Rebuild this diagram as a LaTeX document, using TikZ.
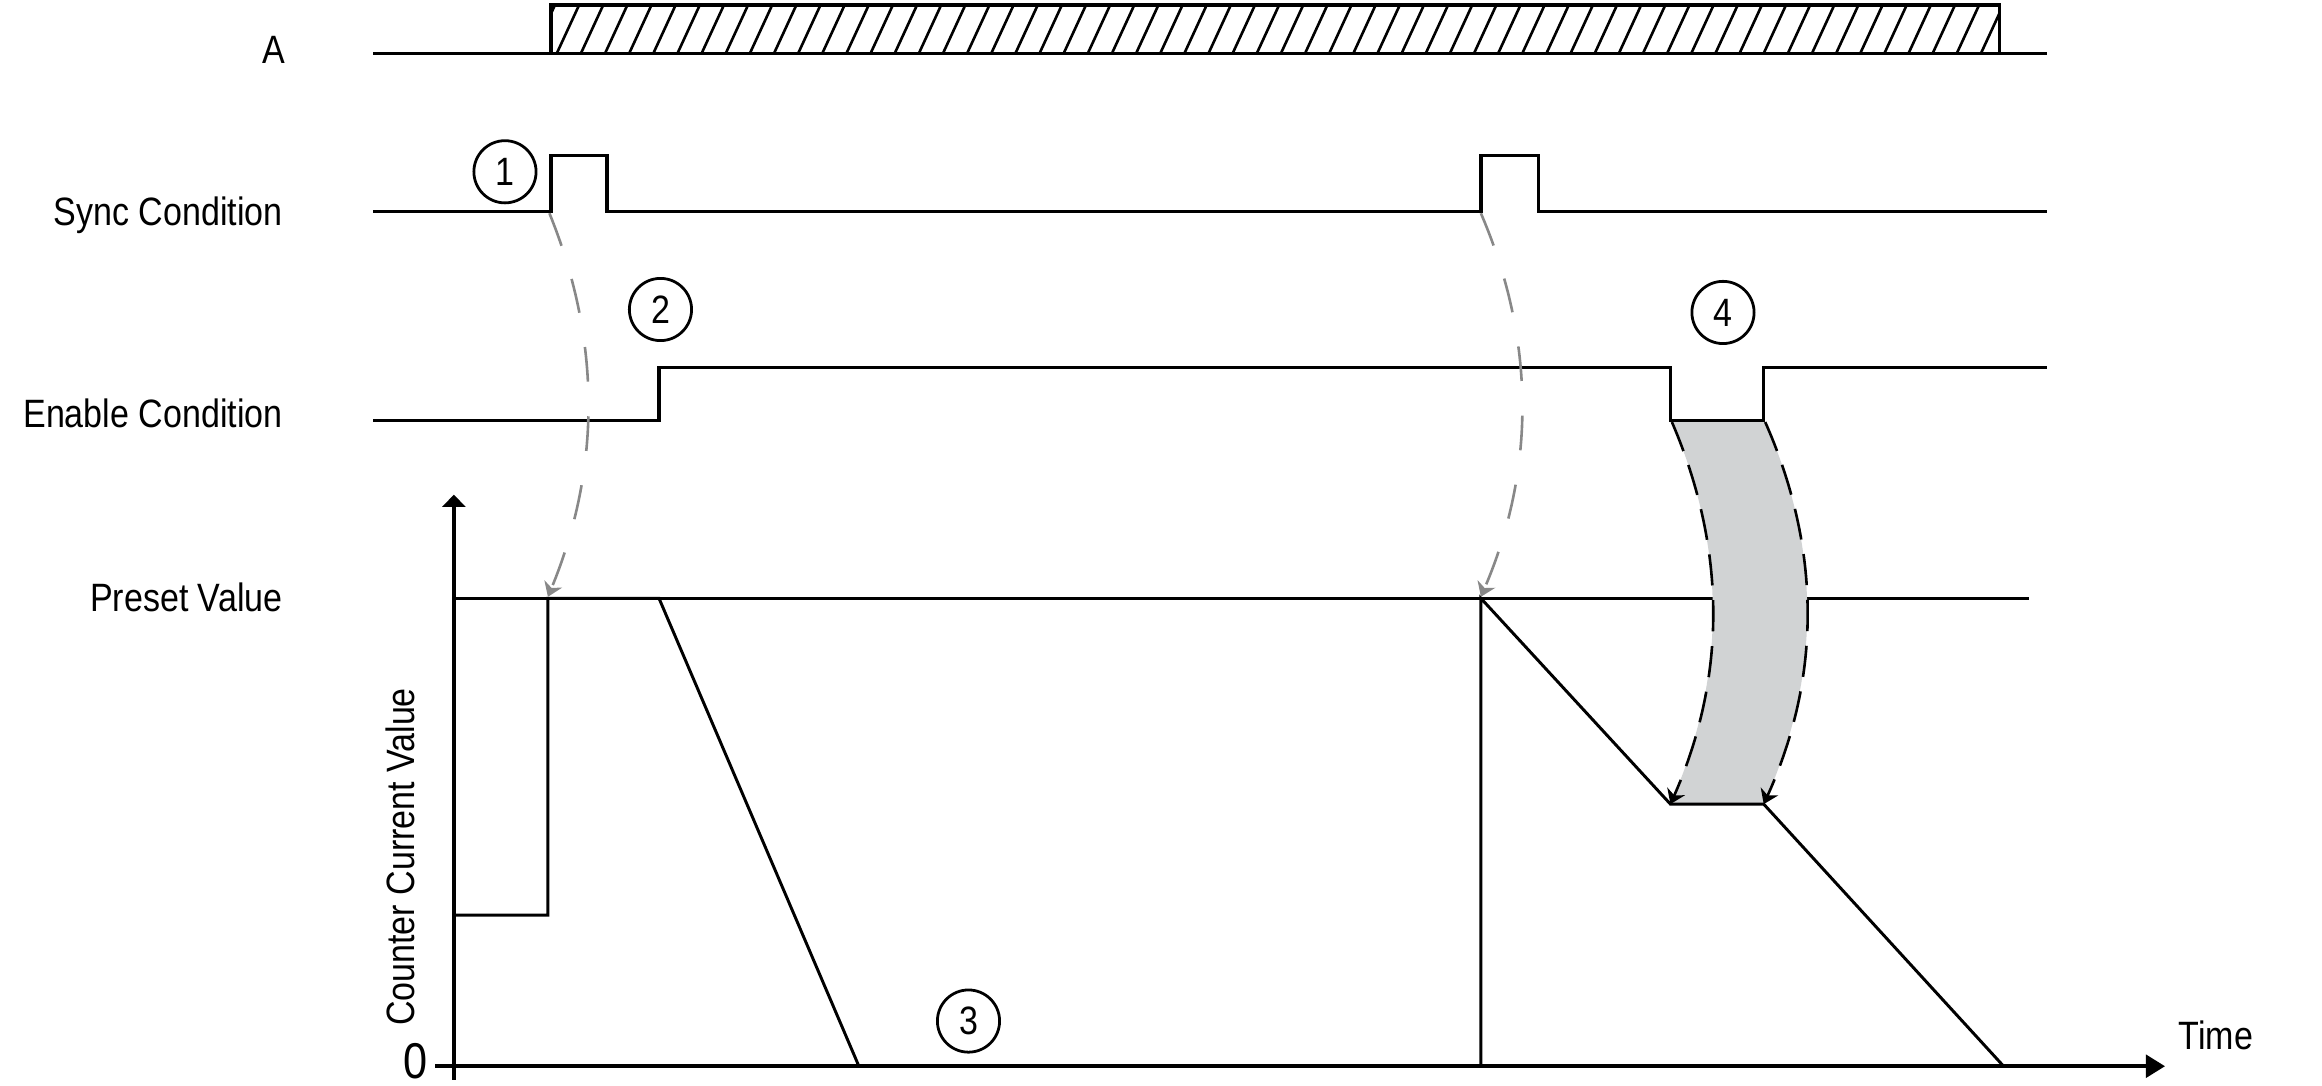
\documentclass[tikz,border=0pt]{standalone}
\usepackage{fontspec}
\setmainfont{Liberation Sans}[FakeStretch=0.86]
\usetikzlibrary{arrows.meta}
\definecolor{bandgray}{HTML}{D1D3D4}
\definecolor{arcgray}{HTML}{888888}
\begin{document}
\begin{tikzpicture}[x=0.03cm,y=-0.03cm,
  sig/.style={line width=1.95pt, line join=miter},
  cnt/.style={line width=1.7pt, line join=miter},
  axis/.style={line width=2.1pt},
  lbl/.style={inner sep=0pt, font=\fontsize{22.8}{27}\selectfont},
  num/.style={circle, draw, line width=1.6pt, minimum size=1.26cm, inner sep=0pt, font=\fontsize{22.8}{27}\selectfont},
  grayarc/.style={draw=arcgray, line width=1.5pt, dash pattern=on 20pt off 20pt, -{Stealth[length=8pt,width=11pt,inset=2.5pt]}},
  bandarc/.style={draw=black, line width=1.5pt, dash pattern=on 18pt off 8.5pt, -{Stealth[length=8pt,width=11pt,inset=2.5pt]}},
  hatchline/.style={line width=1.5pt}]
\useasboundingbox (0,0) rectangle (1568,733);

% labels
\node[lbl, anchor=base east] (lA) at (193,43) {A};
\node[lbl, anchor=base east] (lS) at (191,152) {Sync Condition};
\node[lbl, anchor=base east] (lE) at (191,289) {Enable Condition};
\node[lbl, anchor=base east] (lP) at (191,413) {Preset Value};
\node[lbl, anchor=base west] (lT) at (1471,709) {Time};
\node[lbl, font=\fontsize{29}{34}\selectfont] (l0) at (280.5,716.5) {0};
\node[lbl, rotate=90, anchor=base west] (lC) at (280,693) {Counter Current Value};

% A row
\coordinate (h1) at (372,3.5);
\coordinate (h2) at (1350,36);
\begin{scope}
  \clip (h1) rectangle (h2);
  \foreach \k in {-2,...,61} \draw[hatchline] ({376+16.3*\k},36) -- ++(15,-32.5);
\end{scope}
\draw[sig] (252,36) -- (1382,36);
\draw[sig] (h1) rectangle (h2);

% Sync row
\coordinate (s1) at (371,144);
\coordinate (s2) at (1000,144);
\draw[sig] (252,143) -- (372,143) -- (372,105) -- (410,105) -- (410,143) -- (1000,143) -- (1000,105) -- (1039,105) -- (1039,143) -- (1382,143);

% preset line
\draw[cnt] (306.5,404) -- (1370,404);

% gray band
\coordinate (bl1) at (1129,285);
\coordinate (bl2) at (1128,543);
\coordinate (br1) at (1192,285);
\coordinate (br2) at (1191,543);
\fill[bandgray] (bl1) .. controls (1166,371) and (1166,457) .. (bl2) -- (br2) .. controls (1230,457) and (1230,371) .. (br1) -- cycle;
\draw[bandarc] (bl1) .. controls (1166,371) and (1166,457) .. (bl2);
\draw[bandarc] (br1) .. controls (1230,371) and (1230,457) .. (br2);

% Enable row
\draw[sig] (252,284) -- (445,284) -- (445,248) -- (1128,248) -- (1128,284) -- (1191,284) -- (1191,248) -- (1382,248);

% axes
\draw[axis, -{Triangle[length=7pt,width=13pt]}] (306.5,729) -- (306.5,334);
\draw[axis, -{Triangle[length=11pt,width=13pt]}] (294,720) -- (1462,720);

% counter value
\draw[cnt] (306.5,618) -- (370,618) -- (370,404) -- (445,404) -- (580,720);
\draw[cnt] (1000,720) -- (1000,404) -- (1128,543) -- (1191,543) -- (1353,720);

% gray dashed arcs
\coordinate (p1) at (370,403);
\coordinate (p2) at (1000,403);
\draw[grayarc] (s1) .. controls (406,230) and (406,316) .. (p1);
\draw[grayarc] (s2) .. controls (1037,230) and (1037,317) .. (p2);

% numbered circles
\node[num] (c1) at (341,116) {1};
\node[num] (c2) at (446,209) {2};
\node[num] (c3) at (654,689.5) {3};
\node[num] (c4) at (1163.5,211) {4};
\end{tikzpicture}
\end{document}
